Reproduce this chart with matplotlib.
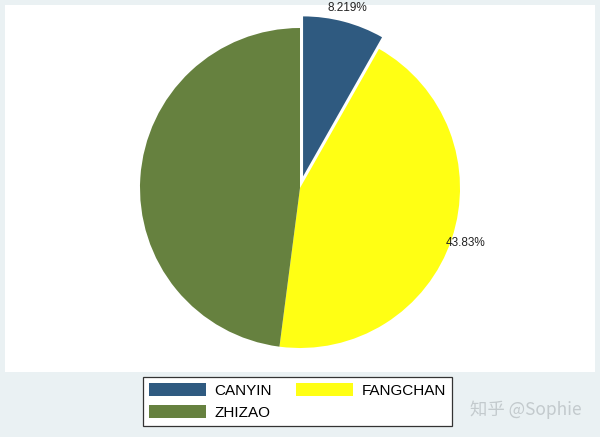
import matplotlib
matplotlib.use("Agg")
import matplotlib.pyplot as plt
from matplotlib.patches import Patch

categories = ["CANYIN", "FANGCHAN", "ZHIZAO"]
shares = [8.219, 43.83, 47.951]
labels_shown = ["8.219%", "43.83%", ""]
colors = ["#2F5A80", "#FFFF14", "#66813F"]
explode = [0.075, 0, 0]

W, H = 600, 437
fig = plt.figure(figsize=(W / 100, H / 100), dpi=100)
fig.patch.set_facecolor("#EAF1F3")

def px_axes(x0, y0, x1, y1):
    return fig.add_axes([x0 / W, (H - y1) / H, (x1 - x0) / W, (y1 - y0) / H])

panel = px_axes(5, 5, 595, 372)
panel.set_facecolor("white")
panel.set_xticks([]); panel.set_yticks([])
for s in panel.spines.values():
    s.set_visible(False)

ax = px_axes(140, 28, 460, 348)
wedges, texts = ax.pie(shares, colors=colors, explode=explode, startangle=90,
                       counterclock=False, labels=labels_shown, labeldistance=1.09,
                       wedgeprops=dict(linewidth=0),
                       textprops=dict(fontsize=8.5, color="#222222", family="Liberation Sans"))
for t in texts:
    t.set_ha("center"); t.set_va("center"); t.set_clip_on(False)
ax.set_xlim(-1, 1); ax.set_ylim(-1, 1)
ax.set_aspect("equal")
ax.axis("off")

# legend filled row-wise: CANYIN, FANGCHAN / ZHIZAO
order = [0, 2, 1]
handles = [Patch(facecolor=colors[i], edgecolor="none") for i in order]
names = [categories[i] for i in order]
leg = fig.legend(handles, names, loc="upper left", ncol=2, frameon=True,
                 bbox_to_anchor=(143 / W, 1 - 377 / H), borderaxespad=0,
                 prop=dict(family="Liberation Sans", size=11),
                 handlelength=3.7, handleheight=0.95, handletextpad=0.59,
                 columnspacing=1.57, borderpad=0.4, labelspacing=0.45,
                 fancybox=False)
leg.get_frame().set_edgecolor("#333333")
leg.get_frame().set_facecolor("white")
leg.get_frame().set_linewidth(0.9)
leg.get_frame().set_alpha(1)

fig.text(526 / W, 1 - 410 / H, "知乎 @Sophie", fontsize=12.5, color="#C3CACD",
         ha="center", va="center", family=["Noto Sans CJK SC", "DejaVu Sans"])

fig.savefig("out.png", dpi=100, facecolor=fig.get_facecolor())
